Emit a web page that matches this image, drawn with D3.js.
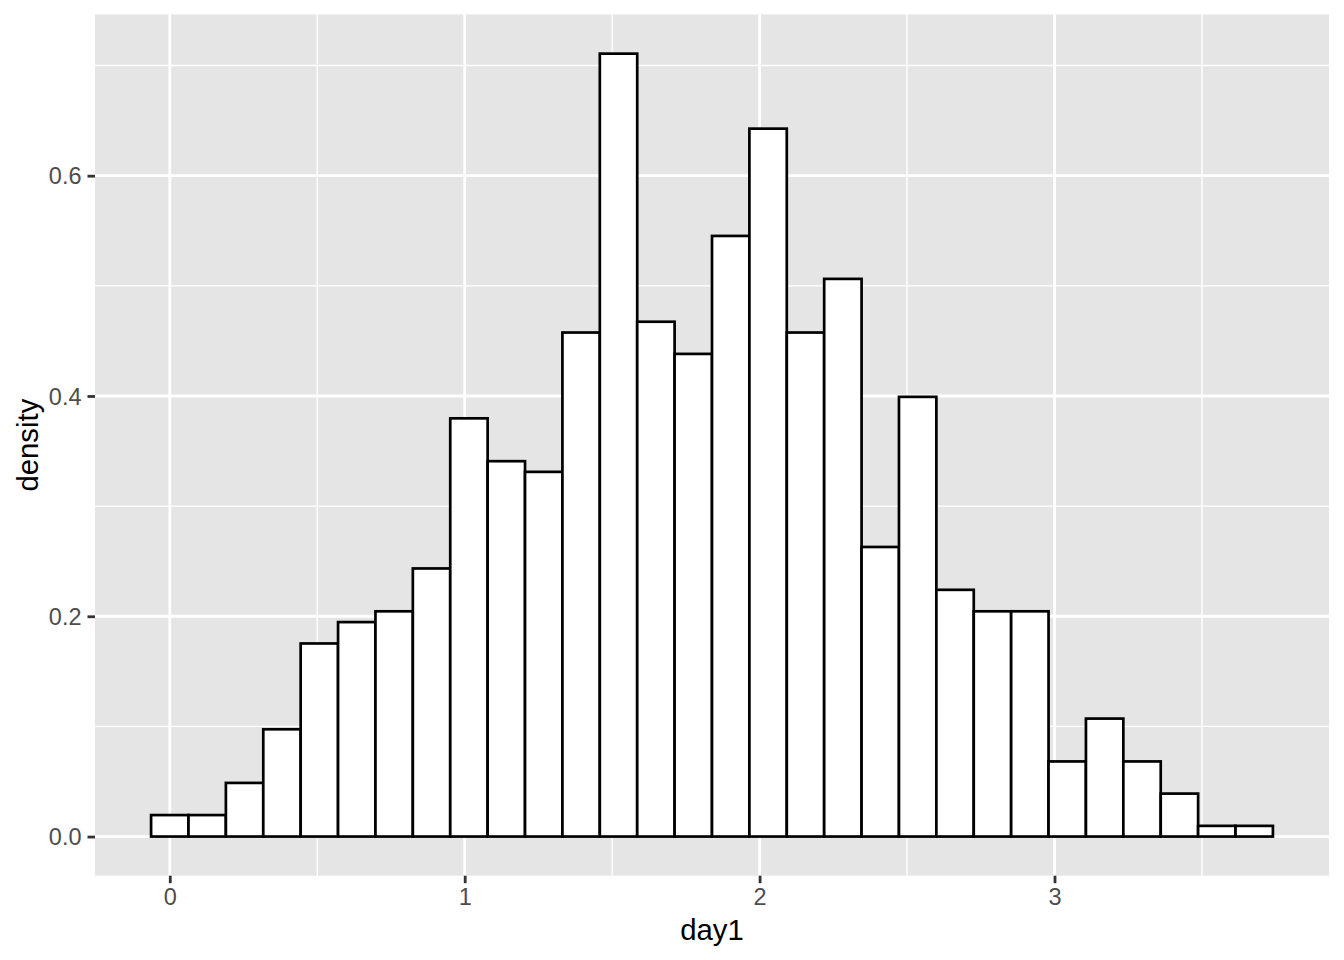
<!DOCTYPE html>
<html>
<head>
<meta charset="utf-8">
<script src="https://cdn.jsdelivr.net/npm/d3@7"></script>
<style>
  body { margin: 0; background: #ffffff; }
  text { font-family: "Liberation Sans", Arial, Helvetica, sans-serif; }
</style>
</head>
<body>
<div id="chart"></div>
<script>
// histogram of day1, 30 bins, density
const binStart = -0.0634;
const binWidth = 0.1268;
const density = [0.0195, 0.0195, 0.0487, 0.0974, 0.1753, 0.1947, 0.2045, 0.2434,
                 0.3797, 0.3408, 0.3311, 0.4576, 0.7108, 0.4674, 0.4382, 0.5453,
                 0.6427, 0.4576, 0.5063, 0.2629, 0.3992, 0.2240, 0.2045, 0.2045,
                 0.0682, 0.1071, 0.0682, 0.0390, 0.0097, 0.0097];
const xBreaks = [0, 1, 2, 3];
const xMinor = [0.5, 1.5, 2.5, 3.5];
const yBreaks = [0, 0.2, 0.4, 0.6];
const yMinor = [0.1, 0.3, 0.5, 0.7];
const xTitle = "day1";
const yTitle = "density";

const width = 1344, height = 960;
const panel = {left: 95, top: 14.5, right: 1329, bottom: 875.7};

//build bins from start + width
let bins = [];
for(let i = 0; i < density.length; i++){
    bins.push({x0: binStart + i * binWidth, x1: binStart + (i + 1) * binWidth, y: density[i]});
}

//ggplot style 5% expansion on both axes
const xLo = bins[0].x0, xHi = bins[bins.length - 1].x1;
const yLo = 0, yHi = d3.max(density);
const xPad = (xHi - xLo) * 0.05, yPad = (yHi - yLo) * 0.05;

const x = d3.scaleLinear().domain([xLo - xPad, xHi + xPad]).range([panel.left, panel.right]);
const y = d3.scaleLinear().domain([yLo - yPad, yHi + yPad]).range([panel.bottom, panel.top]);

const svg = d3.select('#chart').append('svg')
              .attr('width', width)
              .attr('height', height);

svg.append('rect')
   .attr('x', panel.left)
   .attr('y', panel.top)
   .attr('width', panel.right - panel.left)
   .attr('height', panel.bottom - panel.top)
   .attr('fill', '#e5e5e5');

const grid = svg.append('g');
//minor grid first
grid.selectAll('.xminor').data(xMinor.filter(v => x(v) < panel.right)).enter().append('line')
    .attr('x1', d => x(d)).attr('x2', d => x(d))
    .attr('y1', panel.top).attr('y2', panel.bottom)
    .attr('stroke', '#ffffff').attr('stroke-width', 1.4);
grid.selectAll('.yminor').data(yMinor.filter(v => y(v) > panel.top)).enter().append('line')
    .attr('x1', panel.left).attr('x2', panel.right)
    .attr('y1', d => y(d)).attr('y2', d => y(d))
    .attr('stroke', '#ffffff').attr('stroke-width', 1.4);
//major grid
grid.selectAll('.xmajor').data(xBreaks).enter().append('line')
    .attr('x1', d => x(d)).attr('x2', d => x(d))
    .attr('y1', panel.top).attr('y2', panel.bottom)
    .attr('stroke', '#ffffff').attr('stroke-width', 2.8);
grid.selectAll('.ymajor').data(yBreaks).enter().append('line')
    .attr('x1', panel.left).attr('x2', panel.right)
    .attr('y1', d => y(d)).attr('y2', d => y(d))
    .attr('stroke', '#ffffff').attr('stroke-width', 2.8);

//bars
svg.append('g')
   .selectAll('rect')
   .data(bins)
   .enter()
   .append('rect')
   .attr('x', d => x(d.x0))
   .attr('y', d => y(d.y))
   .attr('width', d => x(d.x1) - x(d.x0))
   .attr('height', d => y(0) - y(d.y))
   .attr('fill', '#ffffff')
   .attr('stroke', '#000000')
   .attr('stroke-width', 2.7);

//axes with ggplot look
const xAxis = svg.append('g')
    .attr('transform', `translate(0,${panel.bottom})`)
    .call(d3.axisBottom(x).tickValues(xBreaks).tickFormat(d3.format('d')).tickSize(7.5).tickPadding(5));
const yAxis = svg.append('g')
    .attr('transform', `translate(${panel.left},0)`)
    .call(d3.axisLeft(y).tickValues(yBreaks).tickFormat(d3.format('.1f')).tickSize(7.5).tickPadding(6));

[xAxis, yAxis].forEach(ax => {
    ax.select('.domain').remove();
    ax.selectAll('.tick line').attr('stroke', '#333333').attr('stroke-width', 2.8);
    ax.selectAll('.tick text')
      .attr('fill', '#4d4d4d')
      .style('font-size', '23.5px')
      .style('font-family', '"Liberation Sans", Arial, sans-serif');
});
yAxis.selectAll('.tick text').attr('dy', '0.35em');

svg.append('text')
   .text(xTitle)
   .attr('text-anchor', 'middle')
   .attr('x', (panel.left + panel.right) / 2)
   .attr('y', 940)
   .attr('fill', '#000000')
   .style('font-size', '29.3px');

svg.append('text')
   .text(yTitle)
   .attr('text-anchor', 'middle')
   .attr('transform', `translate(37.5,${(panel.top + panel.bottom) / 2}) rotate(-90)`)
   .attr('fill', '#000000')
   .style('font-size', '29.3px');
</script>
</body>
</html>
